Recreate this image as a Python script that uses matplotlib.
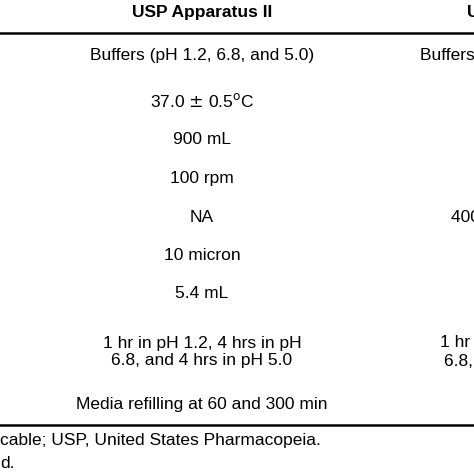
import matplotlib.pyplot as plt

plt.rcParams['font.family'] = ['Liberation Sans', 'DejaVu Sans']

header_mid = "USP Apparatus II"
rows_mid = ["Buffers (pH 1.2, 6.8, and 5.0)", "37.0 $\\pm$ 0.5$^{\\rm o}$C", "900 mL",
            "100 rpm", "NA", "10 micron", "5.4 mL",
            "1 hr in pH 1.2, 4 hrs in pH\n6.8, and 4 hrs in pH 5.0",
            "Media refilling at 60 and 300 min"]
row_y = [55, 101, 139, 178, 217, 256, 294, 352, 405]
# partly visible right column (left-aligned starts)
right_texts = [("U", 467, 12, True), ("Buffers (pH 1.2, 6.8, and 5.0)", 420, 55, False),
               ("400 mL", 451, 217, False), ("1 hr in pH 1.2", 440, 343, False),
               ("6.8, and 4 hrs", 444, 361, False)]
footnotes = ["cable; USP, United States Pharmacopeia.", "d."]
foot_y = [441, 463]

fig = plt.figure(figsize=(4.74, 4.74), dpi=100)
ax = fig.add_axes([0, 0, 1, 1])
ax.set_xlim(0, 474)
ax.set_ylim(474, 0)
ax.axis('off')

fs = 12.5
ax.text(202, 12, header_mid, ha='center', va='center', fontsize=fs, fontweight='bold')
for t, y in zip(rows_mid, row_y):
    ax.text(202, y, t, ha='center', va='center', fontsize=fs, linespacing=1.15)
for t, x, y, b in right_texts:
    ax.text(x, y, t, ha='left', va='center', fontsize=fs,
            fontweight='bold' if b else 'normal', clip_on=True)
for t, y in zip(footnotes, foot_y):
    ax.text(0, y, t, ha='left', va='center', fontsize=fs)

ax.axhline(33, color='black', lw=1.8)
ax.axhline(425, color='black', lw=1.8)

fig.savefig('out.png', dpi=100)
